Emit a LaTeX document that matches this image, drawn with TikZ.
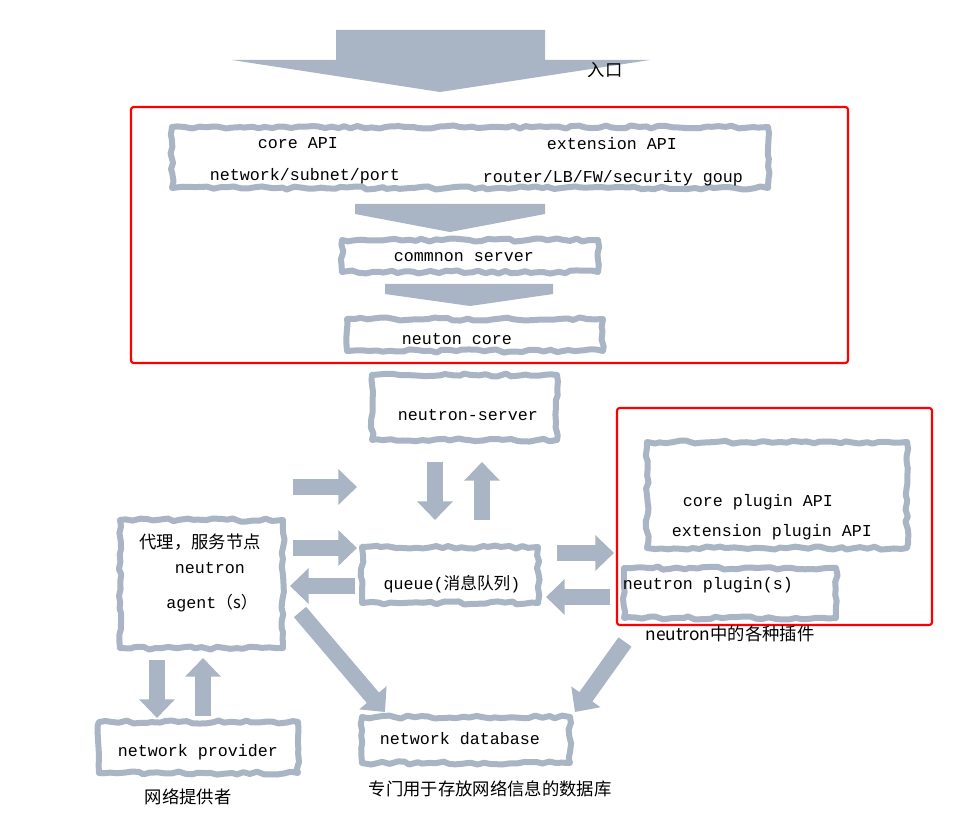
\documentclass[tikz,border=0pt]{standalone}
\usepackage{fontspec}
\newfontfamily\cjk{Noto Sans CJK SC}
\newfontfamily\lmono{Liberation Mono}
\usetikzlibrary{arrows.meta,decorations.pathmorphing}
\definecolor{bg}{HTML}{A9B4C4}
\tikzset{
 rough/.style={draw=bg,line width=4.5pt,line join=round,decorate,decoration={random steps,segment length=5pt,amplitude=1.2pt}},
 redbox/.style={draw=red,line width=1.6pt,rounded corners=2pt},
 txt/.style={font=\lmono\fontsize{12.5}{15}\selectfont,inner sep=0pt},
 ctxt/.style={font=\cjk\fontsize{13}{15}\selectfont,inner sep=0pt},
 barrow/.style={draw=bg,line width=12pt,-{Triangle[length=14pt,width=26pt]}},
}
\begin{document}
\begin{tikzpicture}[x=0.75pt,y=-0.75pt]
\useasboundingbox (0,0) rectangle (961,816);
\fill[white] (0,0) rectangle (961,816);
% top entry arrow
\fill[bg] (336,30) -- (545,30) -- (545,60) -- (650,60) -- (440,92) -- (232,60) -- (336,60) -- cycle;
\node[ctxt] (entry) at (605,70) {入口};
% red boxes
\draw[redbox] (131,107) rectangle (848,363);
\draw[redbox] (617,408) rectangle (932,625);
% boxes
\draw[rough] (172,127) -- (768,127) -- (768,188) -- (172,188) -- cycle;
\node[txt] (core) at (298,143) {core API};
\node[txt] (ext) at (612,144) {extension API};
\node[txt] (nsp) at (305,176) {network/subnet/port};
\node[txt] (rlb) at (613,178) {router/LB/FW/security goup};
\fill[bg] (355,204) -- (545,204) -- (545,214) -- (450,232) -- (355,214) -- cycle;
\draw[rough] (342,240) -- (598,240) -- (598,272) -- (342,272) -- cycle;
\node[txt] (cs) at (464,257) {commnon server};
\fill[bg] (385,284) -- (553,284) -- (553,294) -- (470,306) -- (385,294) -- cycle;
\draw[rough] (347,319) -- (603,319) -- (603,351) -- (347,351) -- cycle;
\node[txt] (nc) at (457,339) {neuton core};
\draw[rough] (372,375) -- (557,375) -- (557,440) -- (372,440) -- cycle;
\node[txt] (ns) at (468,415) {neutron-server};
\draw[rough] (647,442) -- (907,442) -- (907,548) -- (647,548) -- cycle;
\node[txt] (cp) at (758,502) {core plugin API};
\node[txt] (ep) at (772,532) {extension plugin API};
\draw[rough] (624,568) -- (836,568) -- (836,618) -- (624,618) -- cycle;
\node[txt] (np) at (708,585) {neutron plugin(s)};
\node[ctxt] (npl) at (730,634) {neutron中的各种插件};
\draw[rough] (362,547) -- (538,547) -- (538,603) -- (362,603) -- cycle;
\node[txt] (q) at (452,584) {queue(\cjk 消息队列\lmono)};
\draw[rough] (120,520) -- (283,520) -- (283,648) -- (120,648) -- cycle;
\node[ctxt] (a1) at (200,542) {代理，服务节点};
\node[txt] (a2) at (210,568) {neutron};
\node[txt] (a3) at (212,603) {agent\cjk（s）};
\draw[rough] (99,722) -- (298,722) -- (298,773) -- (99,773) -- cycle;
\node[txt] (prov) at (198,752) {network provider};
\node[ctxt] (provl) at (188,797) {网络提供者};
\draw[rough] (362,717) -- (570,717) -- (570,763) -- (362,763) -- cycle;
\node[txt] (db) at (460,739) {network database};
\node[ctxt] (dbl) at (490,789) {专门用于存放网络信息的数据库};
% block arrows
\coordinate (p1) at (435,462); \coordinate (p2) at (435,520);
\draw[barrow] (p1) -- (p2);
\coordinate (p3) at (482,520); \coordinate (p4) at (482,462);
\draw[barrow] (p3) -- (p4);
\coordinate (r1) at (293,487); \coordinate (r2) at (357,487);
\draw[barrow] (r1) -- (r2);
\coordinate (r3) at (293,548); \coordinate (r4) at (357,548);
\draw[barrow] (r3) -- (r4);
\coordinate (l1) at (355,586); \coordinate (l2) at (290,586);
\draw[barrow] (l1) -- (l2);
\coordinate (r5) at (557,553); \coordinate (r6) at (614,553);
\draw[barrow] (r5) -- (r6);
\coordinate (l3) at (610,597); \coordinate (l4) at (546,597);
\draw[barrow] (l3) -- (l4);
\coordinate (d1) at (300,612); \coordinate (d2) at (385,712);
\draw[barrow] (d1) -- (d2);
\coordinate (d3) at (625,642); \coordinate (d4) at (575,712);
\draw[barrow] (d3) -- (d4);
\coordinate (v1) at (157,660); \coordinate (v2) at (157,718);
\draw[barrow] (v1) -- (v2);
\coordinate (v3) at (203,716); \coordinate (v4) at (203,658);
\draw[barrow] (v3) -- (v4);
\end{tikzpicture}
\end{document}
